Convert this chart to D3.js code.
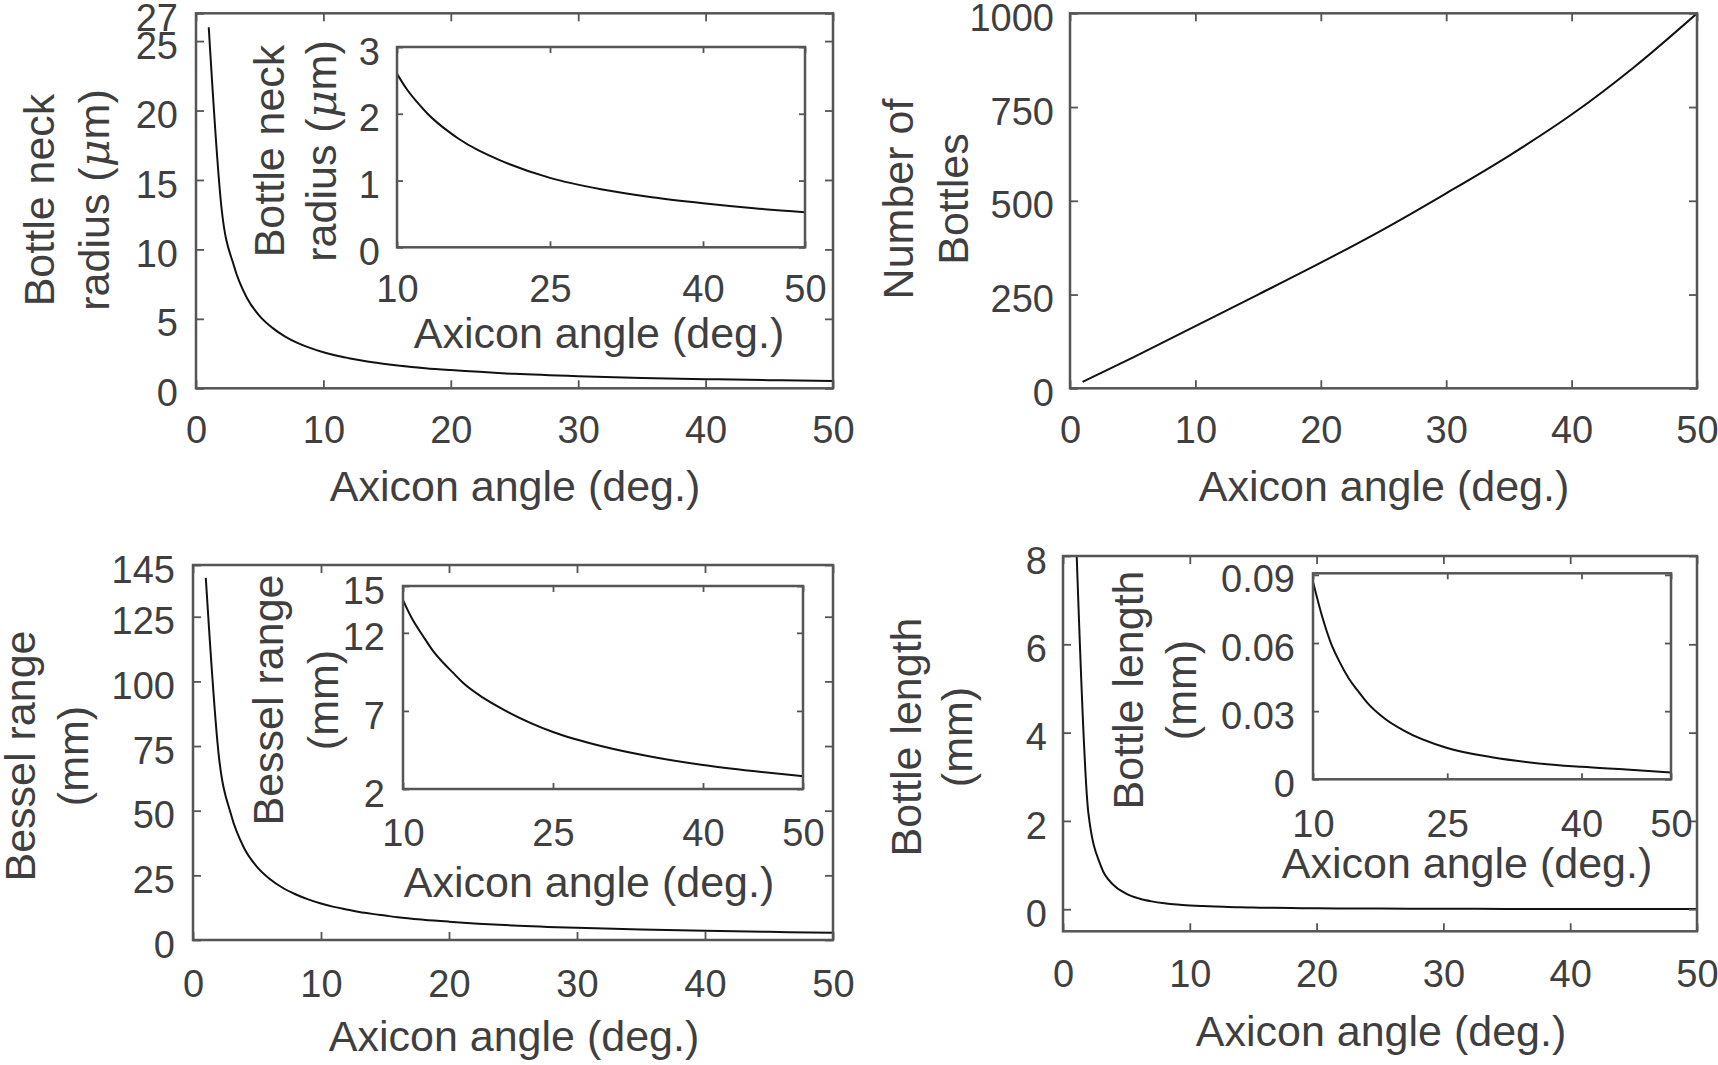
<!DOCTYPE html>
<html><head><meta charset="utf-8">
<script src="https://cdn.jsdelivr.net/npm/d3@7"></script>
<style>
html,body{margin:0;padding:0;background:#fff;}
svg{display:block;}
text{font-family:"Liberation Sans",Arial,Helvetica,sans-serif;fill:#3f3f3f;}
.tick text{font-size:38px;}
.lab{font-size:43px;}
</style>
</head><body>
<svg id="chart" width="1718" height="1065"></svg>
<script>
// ---------- data ----------
const decayAngles  = [1,2,3,4,5,6,7,8,9,10,11,12,13,14,15,16,18,20,25,30,35,40,45,50];
const neckRadius   = [26.0,13.0,8.75,6.5,5.2,4.35,3.72,3.25,2.89,2.6,2.36,2.17,2.0,1.86,1.74,1.63,1.45,1.31,1.04,0.87,0.75,0.66,0.585,0.525];
const besselRange  = [140,72,48,35.5,28.3,23.6,20.2,17.7,15.7,14.1,12.8,11.8,10.85,10.1,9.45,8.8,7.85,7.1,5.65,4.72,4.05,3.54,3.15,2.82];
const bottleLength = [8.7,2.18,0.97,0.545,0.35,0.243,0.178,0.136,0.107,0.087,0.072,0.06,0.0515,0.0444,0.039,0.034,0.0268,0.0218,0.0138,0.0097,0.0071,0.0055,0.0043,0.0030];
const countAngles  = [1,5,10,15,20,25,30,35,40,45,50];
const bottleCount  = [17,82,166,250,335,424,520,620,730,857,1000];

const xTicksMain  = [0,10,20,30,40,50];
const xTicksInset = [10,25,40,50];
const yTicksNeck        = [0,5,10,15,20,25,27];
const yTicksNeckInset   = [0,1,2,3];
const yTicksCount       = [0,250,500,750,1000];
const yTicksBessel      = [0,25,50,75,100,125,145];
const yTicksBesselInset = [2,7,12,15];
const yTicksLength      = [0,2,4,6,8];
const yTicksLengthInset = [0,0.03,0.06,0.09];

const xLabelText = "Axicon angle (deg.)";

// ---------- drawing ----------
const svg = d3.select("#chart");
const defs = svg.append("defs");
const AX = "#555555";

function insetData(xs, ys, min){
  const out = [];
  xs.forEach((v,i)=>{ if (v >= min) out.push([v, ys[i]]); });
  return out;
}

function panel(c){
  const x = d3.scaleLinear().domain(c.xDomain).range([c.L, c.R]);
  const y = d3.scaleLinear().domain(c.yDomain).range([c.B, c.T]);
  const g = svg.append("g");
  if (c.fill) g.append("rect").attr("x",c.L).attr("y",c.T).attr("width",c.R-c.L).attr("height",c.B-c.T).attr("fill","#fff");

  defs.append("clipPath").attr("id","clip"+c.id).append("rect")
    .attr("x",c.L).attr("y",c.T).attr("width",c.R-c.L).attr("height",c.B-c.T);

  g.append("path").datum(c.data)
    .attr("clip-path","url(#clip"+c.id+")")
    .attr("fill","none").attr("stroke","#111").attr("stroke-width",2)
    .attr("d", d3.line().x(d=>x(d[0])).y(d=>y(d[1])).curve(d3.curveMonotoneX));

  const tl = c.tickLen;
  const style = s => s.attr("font-size",null).attr("font-family",null).attr("color",AX);

  const bottom = g.append("g").attr("transform",`translate(0,${c.B})`)
    .call(d3.axisBottom(x).tickValues(c.xTicks).tickSizeInner(-tl).tickSizeOuter(0).tickFormat(d=>String(d)));
  style(bottom); bottom.select(".domain").remove();
  bottom.selectAll("line").attr("stroke-width",1.8);
  bottom.selectAll("text").attr("y", c.xTickBase - c.B).attr("dy", 0);

  const top = g.append("g").attr("transform",`translate(0,${c.T})`)
    .call(d3.axisTop(x).tickValues(c.xTicks).tickSizeInner(-tl).tickSizeOuter(0).tickFormat(""));
  style(top); top.select(".domain").remove();
  top.selectAll("line").attr("stroke-width",1.8);

  const left = g.append("g").attr("transform",`translate(${c.L},0)`)
    .call(d3.axisLeft(y).tickValues(c.yTicks).tickSizeInner(-tl).tickSizeOuter(0).tickFormat(d=>String(d)));
  style(left); left.select(".domain").remove();
  left.selectAll("line").attr("stroke-width",1.8);
  left.selectAll("text").attr("x", -c.yGap).attr("dy","0.45em");

  const right = g.append("g").attr("transform",`translate(${c.R},0)`)
    .call(d3.axisRight(y).tickValues(c.yTicks).tickSizeInner(-tl).tickSizeOuter(0).tickFormat(""));
  style(right); right.select(".domain").remove();
  right.selectAll("line").attr("stroke-width",1.8);

  g.append("rect").attr("x",c.L).attr("y",c.T).attr("width",c.R-c.L).attr("height",c.B-c.T)
    .attr("fill","none").attr("stroke",AX).attr("stroke-width",2.5);

  // x label
  g.append("text").attr("class","lab").attr("x",c.xLabelX).attr("y",c.xLabelBase)
    .attr("text-anchor","middle").text(xLabelText);

  // y label (two lines, rotated)
  c.yLines.forEach(ln=>{
    const t = g.append("text").attr("class","lab").attr("text-anchor","middle")
      .attr("transform",`translate(${ln.x},${c.yLabelY}) rotate(-90)`);
    if (ln.mu){
      t.append("tspan").text("radius (");
      t.append("tspan").attr("font-style","italic").attr("font-family","'DejaVu Serif','Liberation Serif',serif").text("\u03BC");
      t.append("tspan").text("m)");
    } else t.text(ln.text);
  });
}

// Panel 1: bottle neck radius
panel({id:1, L:196, R:833, T:13.3, B:388.3, xDomain:[0,50], yDomain:[0,27],
  xTicks:xTicksMain, yTicks:yTicksNeck, tickLen:8, yGap:18,
  data:d3.zip(decayAngles, neckRadius),
  xTickBase:443, xLabelBase:501, xLabelX:515,
  yLabelY:200, yLines:[{text:"Bottle neck",x:54},{mu:true,x:109}]});
// Panel 1 inset
panel({id:11, fill:true, L:397, R:805, T:47, B:247.3, xDomain:[10,50], yDomain:[0,3],
  xTicks:xTicksInset, yTicks:yTicksNeckInset, tickLen:6, yGap:17,
  data:insetData(decayAngles, neckRadius, 10),
  xTickBase:302, xLabelBase:348, xLabelX:599,
  yLabelY:151, yLines:[{text:"Bottle neck",x:284},{mu:true,x:336}]});

// Panel 2: number of bottles
panel({id:2, L:1070, R:1697, T:13.3, B:388.3, xDomain:[0,50], yDomain:[0,1000],
  xTicks:xTicksMain, yTicks:yTicksCount, tickLen:8, yGap:16,
  data:d3.zip(countAngles, bottleCount),
  xTickBase:443, xLabelBase:501, xLabelX:1384,
  yLabelY:199, yLines:[{text:"Number of",x:913},{text:"Bottles",x:968}]});

// Panel 3: Bessel range
panel({id:3, L:193, R:833, T:565, B:940, xDomain:[0,50], yDomain:[0,145],
  xTicks:xTicksMain, yTicks:yTicksBessel, tickLen:8, yGap:18,
  data:d3.zip(decayAngles, besselRange),
  xTickBase:997, xLabelBase:1051, xLabelX:514,
  yLabelY:756, yLines:[{text:"Bessel range",x:35},{text:"(mm)",x:88}]});
// Panel 3 inset
panel({id:31, fill:true, L:403, R:803, T:586, B:789, xDomain:[10,50], yDomain:[2,15],
  xTicks:xTicksInset, yTicks:yTicksBesselInset, tickLen:6, yGap:18,
  data:insetData(decayAngles, besselRange, 10),
  xTickBase:846, xLabelBase:897, xLabelX:589,
  yLabelY:700, yLines:[{text:"Bessel range",x:283},{text:"(mm)",x:338}]});

// Panel 4: bottle length
panel({id:4, L:1063, R:1697, T:556, B:931.3, xDomain:[0,50], yDomain:[-0.5,8],
  xTicks:xTicksMain, yTicks:yTicksLength, tickLen:8, yGap:16,
  data:d3.zip(decayAngles, bottleLength),
  xTickBase:987, xLabelBase:1046, xLabelX:1381,
  yLabelY:737, yLines:[{text:"Bottle length",x:921},{text:"(mm)",x:972}]});
// Panel 4 inset
panel({id:41, fill:true, L:1313, R:1671, T:573.3, B:779.3, xDomain:[10,50], yDomain:[0,0.0907],
  xTicks:xTicksInset, yTicks:yTicksLengthInset, tickLen:6, yGap:18,
  data:insetData(decayAngles, bottleLength, 10),
  xTickBase:837, xLabelBase:878, xLabelX:1467,
  yLabelY:690, yLines:[{text:"Bottle length",x:1143},{text:"(mm)",x:1196}]});
</script>
</body></html>
